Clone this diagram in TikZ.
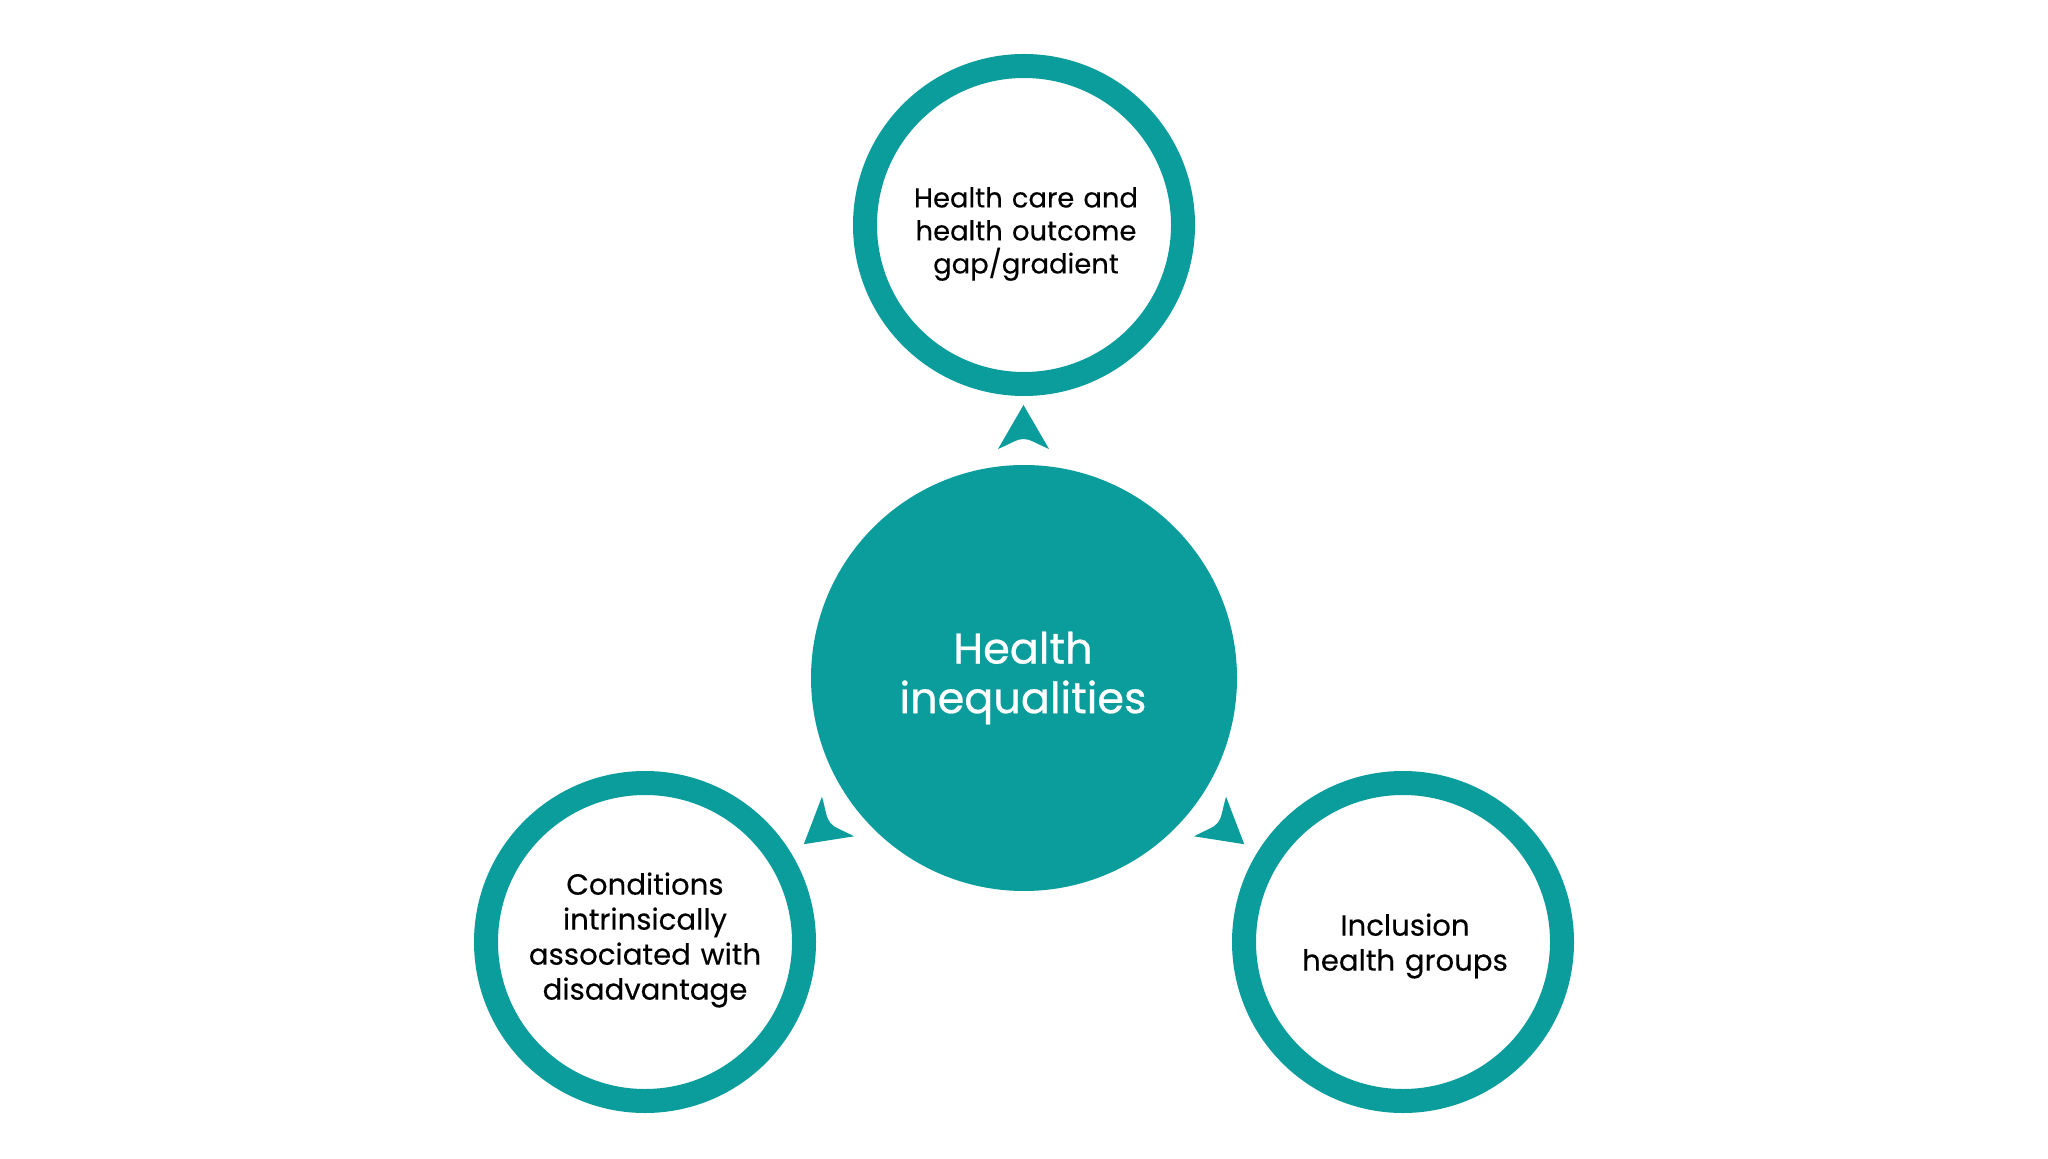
\documentclass[tikz,border=0pt]{standalone}
\usepackage{fontspec}
\setmainfont{Poppins}
\newfontfamily\ringfont[FakeBold=0.3]{Poppins}
\newfontfamily\hubfont[FakeBold=0.6]{Poppins}
\definecolor{teal1}{RGB}{11,157,156}
\begin{document}
\begin{tikzpicture}[x=0.5pt,y=-0.5pt,
  ring/.style={circle, draw=teal1, line width=12pt, minimum size=159pt, inner sep=0pt, fill=white},
  ringlabel/.style={inner sep=0pt, text width=150pt, align=center},
  toptext/.style={font=\ringfont\fontsize{13.7}{16.5}\selectfont},
  bottext/.style={font=\ringfont\fontsize{14.6}{17.5}\selectfont},
  hub/.style={circle, fill=teal1, minimum size=213pt, inner sep=0pt},
  hublabel/.style={inner sep=0pt, text=white, text width=180pt, align=center, font=\hubfont\fontsize{21.5}{24.8}\selectfont},
  triarrow/.pic={\fill[teal1] (0,-44) -- (25.5,0) .. controls (11.5,-6) and (6.5,-10) .. (0,-10) .. controls (-6.5,-10) and (-11.5,-6) .. (-25.5,0) -- cycle;}
]
\useasboundingbox (0,0) rectangle (2048,1159);
\node[ring] (top) at (1024,225) {};
\node[hub] (hubnode) at (1024,678) {};
\node[ring] (bl) at (645,942) {};
\node[ring] (br) at (1403,942) {};
\node[ringlabel, toptext] (toplabel) at (1026,234) {Health care and\\health outcome\\gap/gradient};
\node[hublabel] (hubtext) at (1023,678) {Health\\inequalities};
\node[ringlabel, bottext] (bllabel) at (645,940) {Conditions\\intrinsically\\associated with\\disadvantage};
\node[ringlabel, bottext] (brlabel) at (1405,946) {Inclusion\\health groups};
\pic at (1023.5,449) {triarrow};
\pic[rotate=129] at (838,816.5) {triarrow};
\pic[rotate=-129] at (1210,816.5) {triarrow};
\end{tikzpicture}
\end{document}
